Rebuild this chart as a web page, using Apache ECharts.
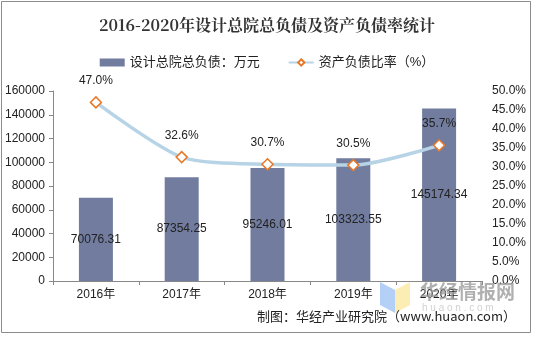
<!DOCTYPE html>
<html><head><meta charset="utf-8">
<script src="https://cdn.jsdelivr.net/npm/echarts@6/dist/echarts.min.js"></script>
<style>html,body{margin:0;padding:0;background:#fff}#c{width:534px;height:337px}</style>
</head><body><div id="c"></div>
<script>
const categories = ['2016年','2017年','2018年','2019年','2020年'];
const debtValues = [70076.31, 87354.25, 95246.01, 103323.55, 145174.34];
const ratioValues = [47.0, 32.6, 30.7, 30.5, 35.7];
const barName = '设计总院总负债：万元';
const lineName = '资产负债比率（%）';
const titleText = '2016-2020年设计总院总负债及资产负债率统计';
const sourceText = '制图：华经产业研究院（www.huaon.com）';

const font = '"Liberation Sans", Arial, "Noto Sans CJK SC", sans-serif';
const chart = echarts.init(document.getElementById('c'), null, {renderer:'canvas'});
chart.setOption({
  animation: false,
  backgroundColor: '#fff',
  textStyle: {fontFamily: font},
  title: {
    text: titleText, left: 'center', top: 12,
    textStyle: {fontFamily: '"Noto Serif CJK SC","DejaVu Serif","Noto Sans CJK SC",serif', fontWeight: 'bold', fontSize: 16, color: '#333'}
  },
  legend: {
    top: 51, left: 'center', itemGap: 28, itemWidth: 25, itemHeight: 8,
    textStyle: {fontSize: 13, color: '#222', fontFamily: font},
    data: [
      {name: barName, icon: 'rect'},
      {name: lineName}
    ]
  },
  grid: {left: 53, right: 52, top: 91, bottom: 56},
  xAxis: {
    type: 'category', data: categories,
    axisLine: {lineStyle: {color: '#888'}},
    axisTick: {show: true, alignWithLabel: false, length: 4, lineStyle: {color: '#888'}},
    axisLabel: {color: '#222', fontSize: 12, margin: 8}
  },
  yAxis: [
    {type: 'value', min: 0, max: 160000, interval: 20000,
     axisLine: {show: true, lineStyle: {color: '#888'}},
     axisTick: {show: true, length: 4, lineStyle: {color: '#888'}},
     splitLine: {show: false},
     axisLabel: {color: '#222', fontSize: 12, margin: 8, formatter: v => String(v)}},
    {type: 'value', min: 0, max: 50, interval: 5,
     axisLine: {show: false}, axisTick: {show: false}, splitLine: {show: false},
     axisLabel: {color: '#222', fontSize: 12, margin: 10, formatter: v => v.toFixed(1) + '%'}}
  ],
  series: [
    {name: barName, type: 'bar', data: debtValues, barWidth: 34,
     itemStyle: {color: '#717c9f'},
     label: {show: true, position: 'inside', color: '#222', fontSize: 12, formatter: p => p.value.toFixed(2)}},
    {name: lineName, type: 'line', yAxisIndex: 1, data: ratioValues, smooth: 0.25,
     symbol: 'diamond', symbolSize: 11,
     lineStyle: {color: '#b7d3e6', width: 3.5},
     itemStyle: {color: '#fff', borderColor: '#e8782a', borderWidth: 1.5},
     label: {show: true, position: 'top', distance: 9, color: '#222', fontSize: 12, formatter: p => p.value.toFixed(1) + '%'}}
  ],
  graphic: [
    {type: 'rect', shape: {x: 1.5, y: 1.5, width: 529, height: 331}, style: {fill: 'none', stroke: '#8c8c8c', lineWidth: 1}, silent: true, z: 100},
    {type: 'polygon', shape: {points: [[380,282],[395,290],[395,313],[380,305]]}, style: {fill: 'rgba(120,170,240,0.55)'}, z: 50},
    {type: 'polygon', shape: {points: [[395,290],[410,282],[410,305],[395,313]]}, style: {fill: 'rgba(250,225,130,0.6)'}, z: 50},
    {type: 'text', left: 420, top: 282, style: {text: '华经情报网', fill: 'rgba(150,150,150,0.75)', font: 'bold 19px "Noto Sans CJK SC", sans-serif'}, z: 50},
    {type: 'text', left: 422, top: 303, style: {text: 'h u a o n . c o m', fill: 'rgba(190,190,190,0.7)', font: '10px "Liberation Sans", sans-serif'}, z: 50},
    {type: 'text', right: 18, top: 310, style: {text: sourceText, fill: '#222', font: '13px "Noto Sans CJK SC", sans-serif'}, z: 60}
  ]
});
</script></body></html>
